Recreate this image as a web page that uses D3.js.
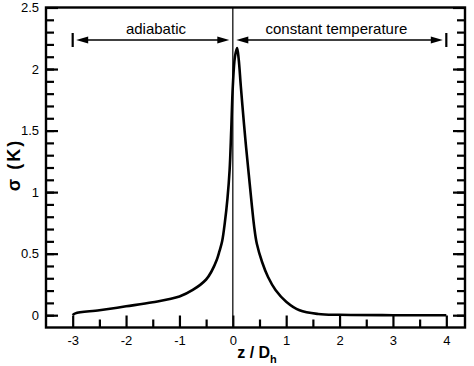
<!doctype html>
<html>

<head>
  <meta charset="utf-8">
  <title>sigma vs z/Dh</title>
  <style>
    body {
      margin: 0;
      background: #fff;
    }

    #chart text {
      font-family: "Liberation Sans", Arial, sans-serif;
      fill: #000;
    }
  </style>
</head>

<body>
  <div id="chart"></div>
  <script src="https://cdn.jsdelivr.net/npm/d3@7"></script>
  <script>
    // values
    const zValues = [-3, -2.95, -2.5, -2, -1.5, -1, -0.75, -0.5, -0.4, -0.3, -0.25, -0.2, -0.15, -0.1, -0.06,
      -0.03, 0, 0.04, 0.08, 0.11, 0.15, 0.21, 0.25, 0.3, 0.35, 0.4, 0.45, 0.55, 0.66, 0.8, 1.0, 1.25, 1.6, 2.0, 3, 4];
    const sigmaValues = [0, 0.015, 0.04, 0.072, 0.105, 0.152, 0.205, 0.29, 0.355, 0.45, 0.52, 0.6, 0.75, 0.95, 1.18,
      1.5, 1.86, 2.1, 2.17, 2.08, 1.86, 1.55, 1.36, 1.14, 0.92, 0.72, 0.58, 0.43, 0.31, 0.205, 0.11, 0.04, 0.01, 0.003, 0, 0];

    const xTicks = [-3, -2, -1, 0, 1, 2, 3, 4];
    const xMinorTicks = [-2.5, -1.5, -0.5, 0.5, 1.5, 2.5, 3.5];
    const yTicks = [0, 0.5, 1, 1.5, 2, 2.5];
    const yMinorTicks = d3.range(0, 25).map(i => i / 10);

    const regionLabels = ['adiabatic', 'constant temperature'];
    const regionStart = [-3, 0];
    const regionEnd = [0, 4];
    const regionLabelX = [-1.44, 1.94];

    const width = 474;
    const height = 366;

    const svg = d3.select('#chart').append('svg')
      .attr('width', width)
      .attr('height', height);

    const x = d3.scaleLinear().domain([-3.5, 4.35]).range([46, 465]);
    const y = d3.scaleLinear().domain([-0.1, 2.5]).range([327.5, 7.5]);

    const fmt = d => String(d);

    const styleAxis = g => {
      g.select('.domain').remove();
      g.selectAll('line').attr('stroke', '#000').attr('stroke-width', 2.2);
      g.selectAll('text').style('font-size', '13px');
    };

    // bottom axis, ticks inward
    svg.append('g')
      .attr('transform', `translate(0,${y.range()[0]})`)
      .call(d3.axisBottom(x).tickValues(xMinorTicks).tickSize(-8).tickFormat(''))
      .call(styleAxis);
    svg.append('g')
      .attr('transform', `translate(0,${y.range()[0]})`)
      .call(d3.axisBottom(x).tickValues(xTicks).tickSize(-12).tickPadding(8).tickFormat(fmt))
      .call(styleAxis);

    // left axis
    svg.append('g')
      .attr('transform', `translate(${x.range()[0]},0)`)
      .call(d3.axisLeft(y).tickValues(yMinorTicks).tickSize(-8).tickFormat(''))
      .call(styleAxis);
    svg.append('g')
      .attr('transform', `translate(${x.range()[0]},0)`)
      .call(d3.axisLeft(y).tickValues(yTicks).tickSize(-12).tickPadding(7).tickFormat(fmt))
      .call(styleAxis);

    // right axis, no labels
    svg.append('g')
      .attr('transform', `translate(${x.range()[1]},0)`)
      .call(d3.axisRight(y).tickValues(yMinorTicks).tickSize(-8).tickFormat(''))
      .call(styleAxis);
    svg.append('g')
      .attr('transform', `translate(${x.range()[1]},0)`)
      .call(d3.axisRight(y).tickValues(yTicks).tickSize(-12).tickFormat(''))
      .call(styleAxis);

    // z = 0 line
    svg.append('line')
      .attr('x1', x(0)).attr('x2', x(0))
      .attr('y1', y.range()[1]).attr('y2', y.range()[0])
      .attr('stroke', '#111')
      .attr('stroke-width', 1.3);

    // curve
    const line = d3.line()
      .x((d, i) => x(zValues[i]))
      .y(d => y(d))
      .curve(d3.curveCatmullRom.alpha(0.5));

    svg.append('path')
      .datum(sigmaValues)
      .attr('d', line)
      .attr('fill', 'none')
      .attr('stroke', '#000')
      .attr('stroke-width', 2.6)
      .attr('stroke-linejoin', 'round');

    // frame
    svg.append('rect')
      .attr('x', x.range()[0])
      .attr('y', y.range()[1])
      .attr('width', x.range()[1] - x.range()[0])
      .attr('height', y.range()[0] - y.range()[1])
      .attr('fill', 'none')
      .attr('stroke', '#000')
      .attr('stroke-width', 2.4);

    // region arrows
    const arrowY = 40;
    const gap = 3.5;
    const headLen = 12;
    const headHalf = 3.5;

    const head = (tipX, dir) =>
      `M${tipX},${arrowY} L${tipX - dir * headLen},${arrowY - headHalf} L${tipX - dir * headLen},${arrowY + headHalf} Z`;

    regionLabels.forEach((label, i) => {
      const x0 = x(regionStart[i]) + gap;
      const x1 = x(regionEnd[i]) - gap;
      svg.append('line')
        .attr('x1', x0 + 4).attr('x2', x1 - 4)
        .attr('y1', arrowY).attr('y2', arrowY)
        .attr('stroke', '#000')
        .attr('stroke-width', 1.6);
      svg.append('path').attr('d', head(x0, -1)).attr('fill', '#000');
      svg.append('path').attr('d', head(x1, 1)).attr('fill', '#000');

      svg.append('text')
        .attr('x', x(regionLabelX[i]))
        .attr('y', 34)
        .attr('text-anchor', 'middle')
        .style('font-size', '15px')
        .text(label);
    });

    // end bars at the outer limits
    [regionStart[0], regionEnd[1]].forEach(v => {
      svg.append('line')
        .attr('x1', x(v)).attr('x2', x(v))
        .attr('y1', arrowY - 7).attr('y2', arrowY + 7)
        .attr('stroke', '#000')
        .attr('stroke-width', 2.2);
    });

    // axis titles
    const xTitle = svg.append('text')
      .attr('x', 257)
      .attr('y', 358)
      .attr('text-anchor', 'middle')
      .style('font-size', '16px')
      .style('font-weight', 'bold');
    xTitle.append('tspan').text('z / D');
    xTitle.append('tspan').attr('dy', 5).style('font-size', '11px').text('h');

    svg.append('text')
      .attr('transform', 'translate(20,165) rotate(-90)')
      .attr('text-anchor', 'middle')
      .style('font-size', '18px')
      .style('font-weight', 'bold')
      .style('letter-spacing', '2px')
      .text('σ (K)');
  </script>
</body>

</html>
